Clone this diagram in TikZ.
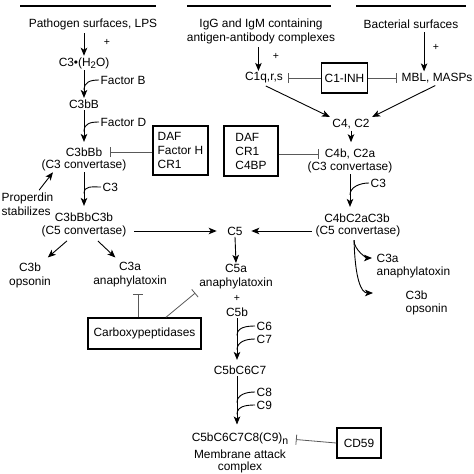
\documentclass[tikz,border=0pt]{standalone}
\usepackage{fontspec}
\setmainfont{Liberation Sans}
\usetikzlibrary{positioning,calc,arrows.meta}

\begin{document}
\begin{tikzpicture}[
    x=1pt, y=-1pt,
    every node/.style={font=\fontsize{11.9}{14}\selectfont, inner sep=1.5pt},
    lbl/.style={align=center},
    box/.style={rectangle, draw, line width=1.5pt, align=left, inner sep=3pt},
    act/.style={-{Stealth[length=8pt,width=6.5pt,inset=2pt]}, line width=0.9pt},
    feed/.style={line width=0.9pt},
    inh/.style={-{Bar[width=10pt]}, line width=0.8pt, draw=black!65},
    rule/.style={line width=1.6pt},
    plus/.style={font=\fontsize{10.5}{11}\selectfont}
]
    \clip (0,0) rectangle (474,474);

    % Headings
    \draw[rule] (20,6) -- (156,6);
    \draw[rule] (187,6) -- (331,6);
    \draw[rule] (356,6) -- (466,6);
    \node[lbl] (path) at (93,24) {Pathogen surfaces, LPS};
    \node[lbl] (igg) at (261,31) {IgG and IgM containing\\antigen-antibody complexes};
    \node[lbl] (bact) at (411,24) {Bacterial surfaces};

    % Alternative pathway
    \node (c3w) at (84,63) {C3•(H\raisebox{-2.5pt}{\fontsize{9.5}{10}\selectfont 2}O)};
    \node (c3bB) at (84,104) {C3bB};
    \node (c3bBb) at (84,152) {C3bBb};
    \node (conv3A) at (84,165) {(C3 convertase)};
    \node (c3bBbC3b) at (84,217) {C3bBbC3b};
    \node (conv5A) at (84,231) {(C5 convertase)};
    \node[anchor=west] (fB) at (99,80) {Factor B};
    \node[anchor=west] (fD) at (99,122) {Factor D};
    \node[anchor=west] (c3inA) at (101,187) {C3};
    \node[anchor=west, align=left] (prop) at (0,204) {Properdin\\stabilizes};
    \node[lbl] (opsA) at (30,275) {C3b\\opsonin};
    \node[lbl] (anaA) at (130,275) {C3a\\anaphylatoxin};
    \node[plus] (plusP) at (107,42) {+};

    % Classical and lectin pathways
    \node (c1q) at (264,78) {C1q,r,s};
    \node[anchor=west] (mbl) at (400,78) {MBL, MASPs};
    \node[plus] (plusI) at (276,56) {+};
    \node[plus] (plusB) at (436,47) {+};
    \node (c4c2) at (351,124) {C4, C2};
    \node (c4bc2a) at (350,154) {C4b, C2a};
    \node (conv3B) at (350,167) {(C3 convertase)};
    \node[anchor=west] (c3inB) at (369,183) {C3};
    \node (c4bc2ac3b) at (357,218) {C4bC2aC3b};
    \node (conv5B) at (358,231) {(C5 convertase)};
    \node[anchor=west] (c3aB) at (375,258) {C3a};
    \node[anchor=west] (anaB) at (375,272) {anaphylatoxin};
    \node[anchor=west] (c3bR) at (404,295) {C3b};
    \node[anchor=west] (opsB) at (404,309) {opsonin};

    % Terminal pathway
    \node (c5) at (235,231) {C5};
    \node[lbl] (c5a) at (236,277) {C5a\\anaphylatoxin};
    \node[plus] (plusC) at (237,298) {+};
    \node (c5b) at (237,312) {C5b};
    \node[anchor=west] (c6) at (255,326) {C6};
    \node[anchor=west] (c7) at (255,339) {C7};
    \node (c567) at (240,370) {C5bC6C7};
    \node[anchor=west] (c8) at (255,392) {C8};
    \node[anchor=west] (c9) at (255,405) {C9};
    \node (macn) at (240,439) {C5bC6C7C8(C9)\raisebox{-3pt}{\fontsize{10.5}{11}\selectfont n}};
    \node (macl) at (240,454) {Membrane attack};
    \node (macc) at (240,467) {complex};

    % Regulators
    \node[box, minimum width=55pt, minimum height=49pt] (dafh) at (180.5,150.5) {DAF\\Factor H\\CR1};
    \node[box, minimum width=54pt, minimum height=50pt] (dafc) at (251,151) {DAF\\CR1\\C4BP};
    \node[box, minimum width=45pt, minimum height=30pt] (c1inh) at (344.5,78) {C1-INH};
    \node[box, minimum width=113pt, minimum height=31pt] (carb) at (144.5,333.5) {Carboxypeptidases};
    \node[box, minimum width=44pt, minimum height=30pt] (cd59) at (359,443) {CD59};

    % Activation arrows
    \draw[act, shorten <=2pt] (path.south -| c3w) -- (c3w.north);
    \draw[act] (c3w.south) -- (c3bB.north);
    \draw[act, shorten >=4pt] (c3bB.south) -- (c3bBb.north);
    \draw[act, shorten >=5pt] (conv3A.south) -- (c3bBbC3b.north);
    \coordinate (jB) at ($(c3w.south)!0.72!(c3bB.north)$);
    \coordinate (jD) at ($(c3bB.south)!0.6!(c3bBb.north)$);
    \coordinate (jC3A) at ($(conv3A.south)!0.55!(c3bBbC3b.north)$);
    \draw[feed] (fB.west) .. controls +(-9,0) and +(0,-8) .. (jB);
    \draw[feed] (fD.west) .. controls +(-9,0) and +(0,-8) .. (jD);
    \draw[feed] (c3inA.west) .. controls +(-9,0) and +(0,-8) .. (jC3A);
    \draw[act, shorten <=1pt] ([xshift=11pt]prop.north) -- ([xshift=13pt]conv3A.south west);
    \draw[act, shorten <=4pt, shorten >=5pt] ([xshift=-14pt]conv5A.south) -- ([xshift=14pt]opsA.north);
    \draw[act, shorten <=4pt, shorten >=5pt] ([xshift=11pt]conv5A.south) -- ([xshift=-11pt]anaA.north);
    \draw[act, shorten <=6pt, shorten >=9pt] (conv5A.east) -- (c5.west);

    \draw[act, shorten <=2pt] (igg.south -| c1q.north west) ++(15pt,0) -- ([xshift=15pt]c1q.north west);
    \draw[act, shorten <=2pt] (bact.south -| mbl.north) ++(-13pt,0) -- ([xshift=-13pt]mbl.north);
    \draw[act, shorten <=2pt, shorten >=1pt] (c1q.south) -- (c4c2.north west);
    \draw[act, shorten <=2pt, shorten >=1pt] (mbl.south) -- (c4c2.north east);
    \draw[act, shorten >=5pt] (c4c2.south) -- (c4c2.south |- c4bc2a.north);
    \draw[act, shorten >=5pt] (conv3B.south) -- (conv3B.south |- c4bc2ac3b.north);
    \coordinate (jC3B) at ($(conv3B.south)!0.55!(conv3B.south |- c4bc2ac3b.north)$);
    \draw[feed] (c3inB.west) .. controls +(-9,0) and +(0,-8) .. (jC3B);
    \coordinate (c3bT) at ($(c3bR.west)+(-31,-2)$);
    \draw[act, shorten <=2pt, shorten >=3pt] ([xshift=-4pt]conv5B.south) .. controls +(0,12) and +(-8,0) .. (c3aB.west);
    \draw[act, shorten <=2pt] ([xshift=-4pt]conv5B.south) .. controls +(1,40) and +(-12,0) .. (c3bT);
    \draw[act, shorten <=2pt, shorten >=7pt] (conv5B.west) -- (c5.east);

    \draw[act] (c5.south) -- (c5a.north);
    \draw[act, shorten >=4pt] (c5b.south) -- (c5b.south |- c567.north);
    \coordinate (j6) at ($(c5b.south)!0.38!(c5b.south |- c567.north)$);
    \coordinate (j7) at ($(c5b.south)!0.69!(c5b.south |- c567.north)$);
    \draw[feed] (c6.west) .. controls +(-9,0) and +(0,-8) .. (j6);
    \draw[feed] (c7.west) .. controls +(-9,0) and +(0,-8) .. (j7);
    \draw[act, shorten >=7pt] (c567.south -| c5b) -- (c5b |- macn.north);
    \coordinate (j8) at ($(c567.south -| c5b)!0.48!(c5b |- macn.north)$);
    \coordinate (j9) at ($(c567.south -| c5b)!0.69!(c5b |- macn.north)$);
    \draw[feed] (c8.west) .. controls +(-9,0) and +(0,-8) .. (j8);
    \draw[feed] (c9.west) .. controls +(-9,0) and +(0,-8) .. (j9);

    % Inhibitions
    \draw[inh, shorten >=6pt] (dafh.west |- c3bBb.east) -- (c3bBb.east);
    \draw[inh, shorten >=4pt] (dafc.east |- c4bc2a.west) -- (c4bc2a.west);
    \draw[inh, shorten >=3pt] (c1inh.west) -- (c1q.east);
    \draw[inh, shorten >=3pt] (c1inh.east) -- (mbl.west);
    \draw[inh, shorten >=5pt] ([xshift=-6.5pt]carb.north) -- ([xshift=-6.5pt]carb.north |- anaA.south);
    \draw[inh, shorten >=3pt] ([xshift=21.5pt]carb.north) -- (c5a.south west);
    \draw[inh, shorten >=6pt] (cd59.west) -- (macn.east);
\end{tikzpicture}
\end{document}
